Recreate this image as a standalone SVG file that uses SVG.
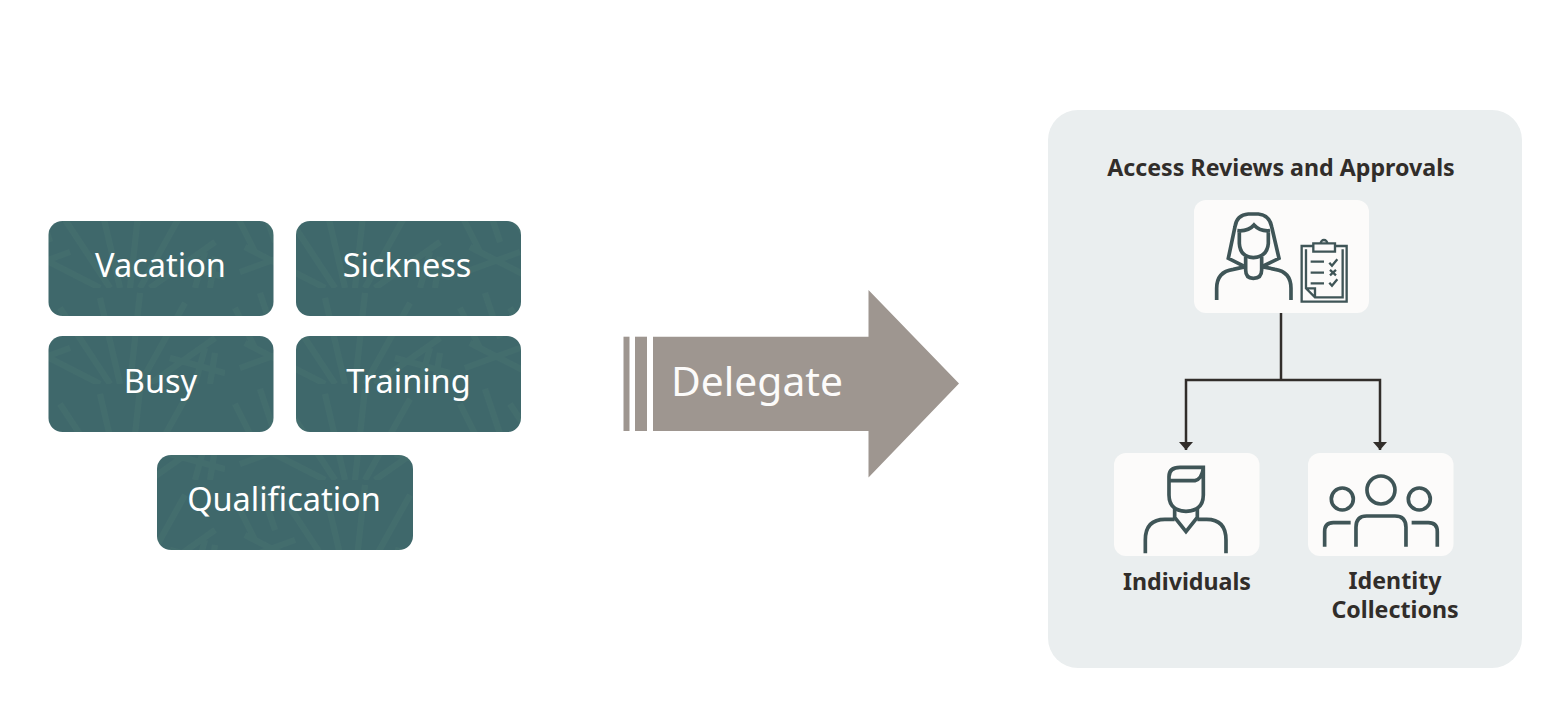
<svg xmlns="http://www.w3.org/2000/svg" width="1551" height="707" viewBox="0 0 1551 707">
<style>
.tile{fill:url(#palm)}
.tl{font-family:"Noto Sans","Open Sans",sans-serif;font-size:32.500px;fill:#fff;text-anchor:middle}
.lb{font-family:"Noto Sans","Open Sans",sans-serif;font-weight:700;font-size:23.200px;fill:#312d2a;text-anchor:middle}
.card{fill:#fcfbfa}
.ic{fill:none;stroke:#3f5557;stroke-width:11}
.ic2{fill:none;stroke:#3f5557;stroke-width:7}
.cn{fill:none;stroke:#312d2a;stroke-width:2.500}
</style>
<defs>
<pattern id="palm" width="225" height="96" patternUnits="userSpaceOnUse">
<rect width="225" height="96" fill="#3f686b"/>
<g fill="none" stroke="#46706f" stroke-width="6" stroke-opacity=".55">
<path d="M110 96L60 20M120 96L100 10M130 96L140 5M140 96L185 15M150 96L215 50M100 96L20 55M15 80L70 60M10 20L30 60M35 5L50 50M195 96L205 60M210 96L215 65M170 70L225 85"/>
</g>
</pattern>
<marker id="ah" markerWidth="10" markerHeight="14" refX="8" refY="7" orient="auto" markerUnits="userSpaceOnUse"><path d="M0 0L8 7L0 14Z" fill="#312d2a"/></marker>
</defs>
<rect width="1551" height="707" fill="#fff"/>
<g id="vacation"><rect class="tile" x="48.500" y="221" width="225" height="95" rx="14"/><text class="tl" x="160.500" y="277">Vacation</text></g>
<g id="sickness"><rect class="tile" x="296" y="221" width="225" height="95" rx="14"/><text class="tl" x="407" y="277">Sickness</text></g>
<g id="busy"><rect class="tile" x="48.500" y="336" width="225" height="96" rx="14"/><text class="tl" x="160.500" y="393">Busy</text></g>
<g id="training"><rect class="tile" x="296" y="336" width="225" height="96" rx="14"/><text class="tl" x="408.500" y="393">Training</text></g>
<g id="qualification"><rect class="tile" x="157" y="455" width="256" height="95" rx="14"/><text class="tl" x="284" y="511">Qualification</text></g>
<g id="delegate">
<rect x="623.500" y="336.700" width="6" height="94.300" fill="#9e9690"/>
<rect x="635" y="336.700" width="12" height="94.300" fill="#9e9690"/>
<path d="M653 336.700H868.500V290L959 383.500L868.500 477.500V431H653Z" fill="#9e9690"/>
<text x="671" y="396" font-family="'Noto Sans','Open Sans',sans-serif" font-size="40.800" fill="#fcfbfa">Delegate</text>
</g>
<g id="panel"><rect x="1048" y="110" width="474" height="558" rx="30" fill="#eaeeef"/><text class="lb" x="1281" y="176">Access Reviews and Approvals</text></g>
<g id="connectors">
<path class="cn" d="M1281 313V380"/>
<path class="cn" marker-end="url(#ah)" d="M1281 380H1186V450"/>
<path class="cn" marker-end="url(#ah)" d="M1281 380H1380V450"/>
</g>
<g id="reviewer">
<rect class="card" x="1194" y="200" width="175" height="113" rx="12"/>
<g transform="translate(1180 190) scale(.3333)">
<path class="ic" d="M190 228L145 205L165 110Q170 75 205 72H235Q268 75 275 110L297 205L250 228"/>
<path class="ic" d="M178 120V160Q180 200 220 203Q262 200 265 160V120M172 122Q205 125 222 105Q240 125 270 122"/>
<path class="ic" d="M197 200V240Q197 265 220 265Q245 265 245 240V200"/>
<path class="ic" d="M110 330V295Q110 245 160 238L197 230M245 230L285 238Q333 245 333 295V330"/>
<path class="ic2" d="M400 168H365V335H500V168H465M378 178V295L405 322H488V178M378 295H405V322"/>
<path class="ic2" d="M400 160H465V185H400ZM422 160A10 10 0 1 1 442 160"/>
<path class="ic2" d="M392 215H432M392 248H432M392 280H432M448 218L456 227L472 208M450 240L468 256M468 240L450 256M448 278L456 287L472 268"/>
</g>
</g>
<g id="individuals">
<rect class="card" x="1114" y="453" width="145.500" height="103" rx="12"/>
<g transform="translate(1100 440) scale(.3333)">
<path class="ic" d="M207 110V165Q207 212 258 214Q310 212 310 165V82H240Q207 82 207 110ZM207 122H285Q305 118 310 85"/>
<path class="ic" d="M224 205V232L258 275L292 232V205"/>
<path class="ic" d="M136 340V300Q136 238 195 238H224M292 238H320Q378 238 378 300V340"/>
</g>
<text class="lb" x="1187" y="590">Individuals</text>
</g>
<g id="collections">
<rect class="card" x="1308" y="453" width="145.500" height="103" rx="12"/>
<g transform="translate(1100 440) scale(.3333)">
<circle class="ic" cx="843" cy="150" r="42"/><circle class="ic" cx="727" cy="177" r="33"/><circle class="ic" cx="958" cy="177" r="33"/>
<path class="ic" d="M768 320V262Q768 228 800 228H885Q918 228 918 262V320M674 320V275Q674 248 700 248H752M935 248H985Q1012 248 1012 275V320"/>
</g>
<text class="lb" x="1395" y="589">Identity</text>
<text class="lb" x="1395" y="618">Collections</text>
</g>
</svg>
